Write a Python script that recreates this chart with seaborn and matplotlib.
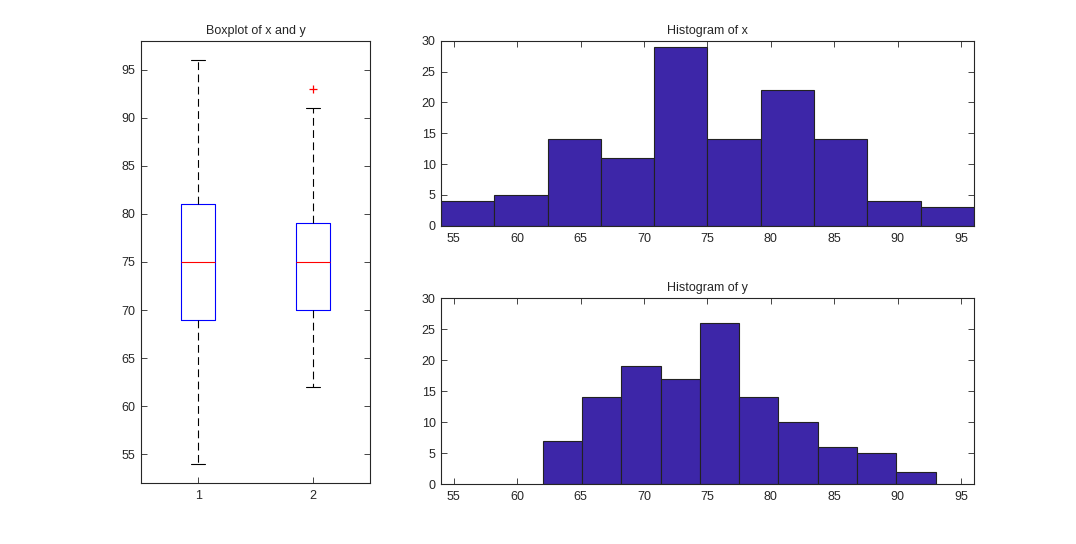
import numpy as np
import matplotlib
matplotlib.use("Agg")
import matplotlib.pyplot as plt
import seaborn as sns

# histogram of x: bin edges and counts
x_edges = [54, 58.2, 62.4, 66.6, 70.8, 75.0, 79.2, 83.4, 87.6, 91.8, 96]
x_counts = [4, 5, 14, 11, 29, 14, 22, 14, 4, 3]

# histogram of y: bin edges and counts
y_edges = [62, 65.1, 68.2, 71.3, 74.4, 77.5, 80.6, 83.7, 86.8, 89.9, 93]
y_counts = [7, 14, 19, 17, 26, 14, 10, 6, 5, 2]

# boxplot summaries
box_labels = ["1", "2"]
box_q1 = [69, 70]
box_med = [75, 75]
box_q3 = [81, 79]
box_lo = [54, 62]
box_hi = [96, 91]
box_fliers = [[], [93]]

sns.set_theme(style="ticks")
plt.rcParams["font.family"] = ["Liberation Sans", "DejaVu Sans"]
plt.rcParams.update({
    "xtick.direction": "in", "ytick.direction": "in",
    "xtick.top": True, "ytick.right": True,
    "xtick.labelsize": 9, "ytick.labelsize": 9,
    "axes.edgecolor": "#262626", "axes.linewidth": 0.8,
    "xtick.color": "#262626", "ytick.color": "#262626",
    "xtick.major.size": 4, "ytick.major.size": 4,
    "xtick.major.width": 0.6, "ytick.major.width": 0.6,
    "xtick.major.pad": 5, "ytick.major.pad": 4,
})

fig = plt.figure(figsize=(10.76, 5.44), dpi=100)
ax_box = fig.add_axes([0.131, 0.112, 0.213, 0.813])
ax_hx = fig.add_axes([0.410, 0.585, 0.495, 0.340])
ax_hy = fig.add_axes([0.410, 0.110, 0.495, 0.342])

#boxplot
stats = []
for i in range(len(box_labels)):
    stats.append({"q1": box_q1[i], "med": box_med[i], "q3": box_q3[i],
                  "whislo": box_lo[i], "whishi": box_hi[i],
                  "fliers": box_fliers[i], "label": box_labels[i]})
ax_box.bxp(stats, positions=[1, 2], widths=0.3, capwidths=0.12, showfliers=True,
           boxprops=dict(color="blue", linewidth=0.8),
           medianprops=dict(color="red", linewidth=0.8),
           whiskerprops=dict(color="black", linestyle=(0, (7, 4)), linewidth=0.8),
           capprops=dict(color="black", linewidth=0.8),
           flierprops=dict(marker="+", markeredgecolor="red", markersize=6,
                           markeredgewidth=0.9))
ax_box.set_xlim(0.5, 2.5)
ax_box.set_ylim(52, 98)
ax_box.set_yticks(range(55, 100, 5))
ax_box.set_title("Boxplot of x and y", fontsize=9, pad=5)
ax_box.tick_params(axis="x", top=False)

#histograms
def draw_hist(ax, edges, counts, title):
    centers = [(edges[i] + edges[i + 1]) / 2 for i in range(len(counts))]
    sns.histplot(x=centers, weights=counts, bins=edges, ax=ax,
                 color="#3D26A8", edgecolor="#222222", linewidth=0.8, alpha=1)
    ax.set_xlim(54, 96)
    ax.set_ylim(0, 30)
    ax.set_xticks(range(55, 100, 5))
    ax.set_yticks(range(0, 35, 5))
    ax.set_xlabel("")
    ax.set_ylabel("")
    ax.set_title(title, fontsize=9, pad=5)

draw_hist(ax_hx, x_edges, x_counts, "Histogram of x")
draw_hist(ax_hy, y_edges, y_counts, "Histogram of y")

fig.savefig("out.png", dpi=100)
